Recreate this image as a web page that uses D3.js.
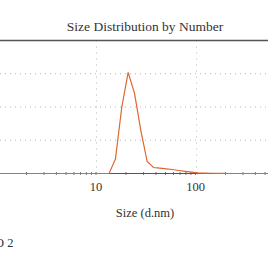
<!DOCTYPE html>
<html>
<head>
<meta charset="utf-8">
<script src="https://cdn.jsdelivr.net/npm/d3@7"></script>
<style>
  html, body { margin: 0; padding: 0; background: #fff; }
  svg { display: block; }
</style>
</head>
<body>
<script>
// Size bins (d.nm) and number distribution (%)
const sizes = [0.9649, 1.117, 1.294, 1.499, 1.736, 2.010, 2.328, 2.696, 3.122, 3.615,
  4.187, 4.849, 5.615, 6.503, 7.531, 8.721, 10.10, 11.70, 13.54, 15.69, 18.17, 21.04,
  24.36, 28.21, 32.67, 37.84, 43.82, 50.75, 58.77, 68.06, 78.82, 91.28, 105.7, 122.4,
  141.8, 164.2, 190.1, 220.2, 255.0, 295.3, 342.0, 396.1, 458.7, 531.2, 615.1];
const numbers = [0, 0, 0, 0, 0, 0, 0, 0, 0, 0,
  0, 0, 0, 0, 0, 0, 0, 0, 0, 2.2, 10.0, 15.2,
  12.1, 6.5, 1.8, 0.9, 0.8, 0.7, 0.6, 0.45, 0.32, 0.2, 0.1, 0.07,
  0.04, 0.02, 0.01, 0, 0, 0, 0, 0, 0, 0, 0];
const xTicks = [10, 100];
const yGrid = [5, 10, 15];

// Layout
const width = 268, height = 268;
const textColor = "#333";
const axisColor = "#555";
const lineColor = "#df6530";
const font = "'Liberation Serif', 'DejaVu Serif', serif";

const svg = d3.select("body").append("svg")
    .attr("width", width)
    .attr("height", height);

const x = d3.scaleLog()
    .domain([1, 1000])
    .range([-3.5, 295]);

const y = d3.scaleLinear()
    .domain([0, 20])
    .range([173.5, 40.5]);

// Horizontal dotted gridlines
svg.append("g")
    .selectAll("line")
    .data(yGrid)
    .join("line")
    .attr("x1", 0)
    .attr("x2", width)
    .attr("y1", d => y(d))
    .attr("y2", d => y(d))
    .attr("stroke", "#b5b5b5")
    .attr("stroke-width", 1)
    .attr("stroke-dasharray", "1,4");

// Vertical dotted gridlines
svg.append("g")
    .selectAll("line")
    .data(xTicks)
    .join("line")
    .attr("x1", d => Math.round(x(d)) + 0.5)
    .attr("x2", d => Math.round(x(d)) + 0.5)
    .attr("y1", y(20))
    .attr("y2", y(0))
    .attr("stroke", "#b5b5b5")
    .attr("stroke-width", 1)
    .attr("stroke-dasharray", "1,5");

// Top frame line
svg.append("line")
    .attr("x1", 0)
    .attr("x2", width)
    .attr("y1", y(20))
    .attr("y2", y(20))
    .attr("stroke", axisColor)
    .attr("stroke-width", 1.3);

// Bottom axis with log ticks
const xAxis = d3.axisBottom(x)
    .ticks(3)
    .tickSize(0)
    .tickFormat("");

const axisG = svg.append("g")
    .attr("transform", `translate(0,${y(0)})`)
    .call(xAxis);
axisG.select(".domain").remove();

axisG.append("line")
    .attr("x1", 0)
    .attr("x2", width)
    .attr("stroke", axisColor)
    .attr("stroke-width", 1);

const minorTicks = x.ticks().filter(d => d >= 1 && d <= 1000);
axisG.selectAll(".minor")
    .data(minorTicks)
    .join("line")
    .attr("class", "minor")
    .attr("x1", d => x(d))
    .attr("x2", d => x(d))
    .attr("y1", -1.5)
    .attr("y2", 1.5)
    .attr("stroke", axisColor)
    .attr("stroke-width", 0.8);

axisG.selectAll(".lbl")
    .data(xTicks)
    .join("text")
    .attr("class", "lbl")
    .attr("x", d => x(d))
    .attr("y", 17)
    .attr("text-anchor", "middle")
    .attr("fill", textColor)
    .style("font-family", font)
    .style("font-size", "12.5px")
    .text(d => d);

// Distribution line
const line = d3.line()
    .x((d, i) => x(sizes[i]))
    .y(d => y(d));

svg.append("path")
    .datum(numbers)
    .attr("d", line)
    .attr("fill", "none")
    .attr("stroke", lineColor)
    .attr("stroke-width", 1.2)
    .attr("stroke-linejoin", "miter");

// Title and labels
svg.append("text")
    .attr("x", 145)
    .attr("y", 31)
    .attr("text-anchor", "middle")
    .attr("fill", textColor)
    .style("font-family", font)
    .style("font-size", "13.5px")
    .text("Size Distribution by Number");

svg.append("text")
    .attr("x", 145)
    .attr("y", 217)
    .attr("text-anchor", "middle")
    .attr("fill", textColor)
    .style("font-family", font)
    .style("font-size", "12.5px")
    .text("Size (d.nm)");

svg.append("text")
    .attr("x", -5)
    .attr("y", 247)
    .attr("fill", textColor)
    .style("font-family", font)
    .style("font-size", "12.5px")
    .text("O 2");
</script>
</body>
</html>
